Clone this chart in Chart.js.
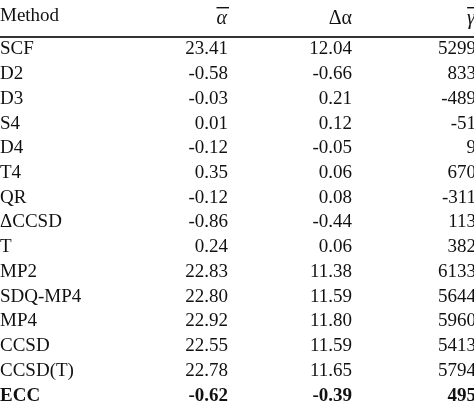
<!DOCTYPE html>
<html>
<head>
<meta charset="utf-8">
<script src="https://cdn.jsdelivr.net/npm/chart.js@4"></script>
<style>
  html, body { margin: 0; padding: 0; background: #fff; }
  #wrap { width: 474px; height: 408px; }
</style>
</head>
<body>
<div id="wrap"><canvas id="tbl"></canvas></div>
<script>
const methods = ['SCF', 'D2', 'D3', 'S4', 'D4', 'T4', 'QR', '\u0394CCSD', 'T',
    'MP2', 'SDQ-MP4', 'MP4', 'CCSD', 'CCSD(T)', 'ECC']
const alphaBar = ['23.41', '-0.58', '-0.03', '0.01', '-0.12', '0.35', '-0.12', '-0.86', '0.24',
    '22.83', '22.80', '22.92', '22.55', '22.78', '-0.62']
const deltaAlpha = ['12.04', '-0.66', '0.21', '0.12', '-0.05', '0.06', '0.08', '-0.44', '0.06',
    '11.38', '11.59', '11.80', '11.59', '11.65', '-0.39']
const gammaBar = ['5299', '833', '-489', '-51', '9', '670', '-311', '113', '382',
    '6133', '5644', '5960', '5413', '5794', '495']
const headers = ['\u03b1', '\u0394\u03b1', '\u03b3']
const boldRows = ['ECC']

const FONT = '"Liberation Serif", "DejaVu Serif", serif'
const columns = [alphaBar, deltaAlpha, gammaBar]

// one invisible point per cell; the plugin writes the text at the point
const datasets = columns.map((col, ci) => ({
    label: 'col' + ci,
    data: col.map((v, ri) => ({ x: ci + 1, y: methods[ri], text: v })),
    pointRadius: 0,
    showLine: false
}))

const tablePlugin = {
    id: 'tableText',
    afterDatasetsDraw(chart) {
        const ctx = chart.ctx
        const yScale = chart.scales.y
        const xScale = chart.scales.x
        ctx.save()
        ctx.fillStyle = '#111'
        ctx.textBaseline = 'middle'

        // method names
        methods.forEach(m => {
            ctx.font = (boldRows.includes(m) ? 'bold ' : '') + '19px ' + FONT
            ctx.textAlign = 'left'
            ctx.fillText(m, 0, yScale.getPixelForValue(m))
        })

        // cells
        chart.data.datasets.forEach((ds, di) => {
            const meta = chart.getDatasetMeta(di)
            meta.data.forEach((pt, i) => {
                const row = ds.data[i]
                ctx.font = (boldRows.includes(row.y) ? 'bold ' : '') + '19px ' + FONT
                ctx.textAlign = 'right'
                ctx.fillText(row.text, pt.x, pt.y)
            })
        })

        // header row
        const hy = 16
        ctx.font = '19px ' + FONT
        ctx.textAlign = 'left'
        ctx.fillText('Method', 0, hy)
        headers.forEach((h, i) => {
            const x = xScale.getPixelForValue(i + 1)
            ctx.textAlign = 'right'
            ctx.font = (i === 1 ? '' : 'italic ') + '20px ' + FONT
            const w = ctx.measureText(h).width
            ctx.fillText(h, x - (i === 1 ? 0 : 1), hy + 3)
            if (i !== 1) {
                ctx.fillRect(x - w - 1, hy - 9, w + 2, 1.4)
            }
        })

        // rule under header
        ctx.fillStyle = '#333'
        ctx.fillRect(0, 36, chart.width, 2)
        ctx.restore()
    }
}

new Chart(document.getElementById('tbl'), {
    type: 'scatter',
    data: { datasets },
    options: {
        responsive: true,
        maintainAspectRatio: false,
        animation: false,
        layout: { padding: { top: 37, bottom: 0, left: 0, right: 0 } },
        scales: {
            x: {
                type: 'linear',
                display: false,
                min: 1 - 228 / 124,
                max: 1 + (474 - 228) / 124
            },
            y: {
                type: 'category',
                labels: methods,
                offset: true,
                display: false
            }
        },
        plugins: {
            legend: { display: false },
            tooltip: { enabled: false }
        },
        clip: false
    },
    plugins: [tablePlugin]
})
</script>
</body>
</html>
